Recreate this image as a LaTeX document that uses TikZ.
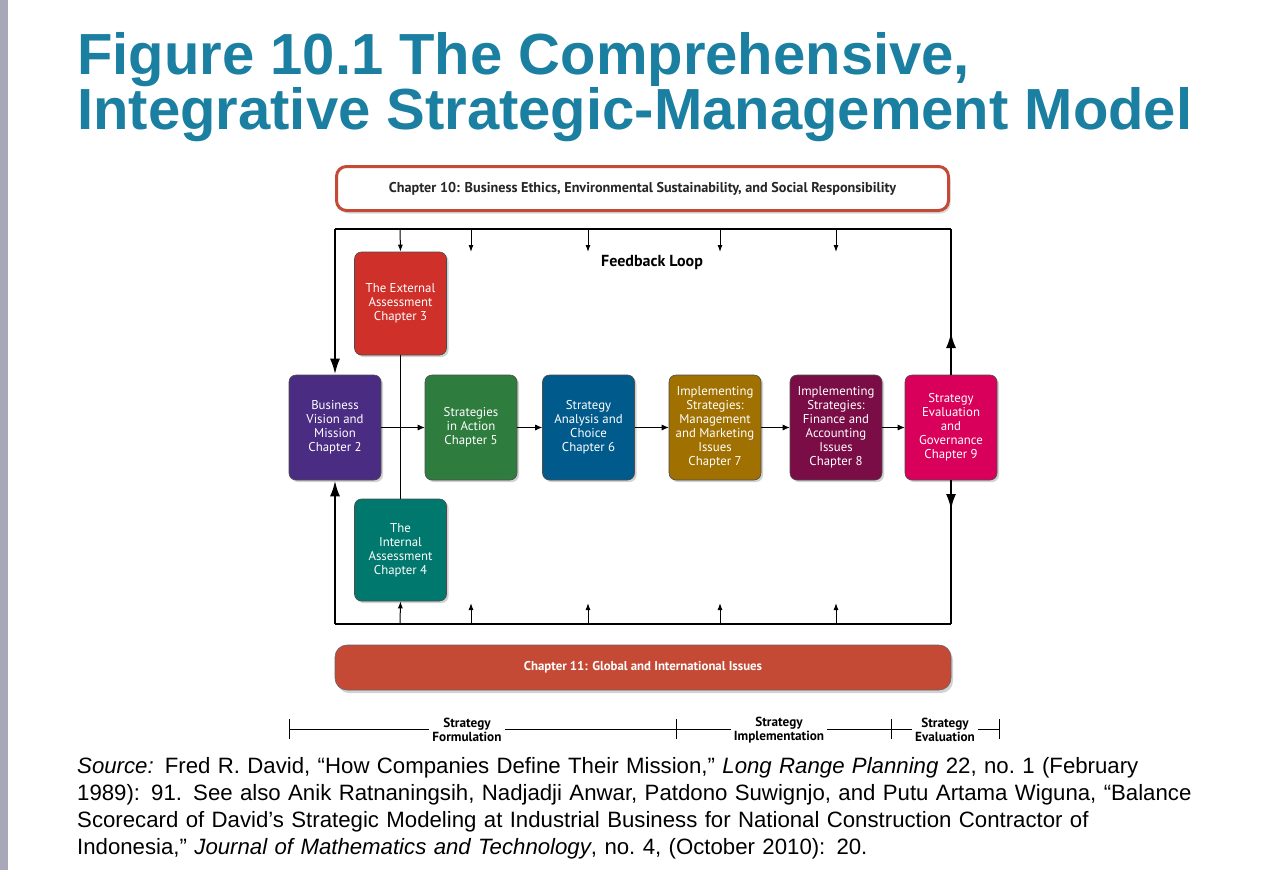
\documentclass[tikz,border=0pt]{standalone}
\usepackage{fontspec}
\setmainfont{Liberation Sans}
\newfontfamily\diag{PT Sans}
\usetikzlibrary{arrows.meta,shadows}
\definecolor{titleblue}{HTML}{1A7FA0}
\definecolor{cpurple}{HTML}{4B2C83}
\definecolor{cgreen}{HTML}{2E7D3E}
\definecolor{cblue}{HTML}{005A8C}
\definecolor{cgold}{HTML}{A07000}
\definecolor{cmaroon}{HTML}{7A0D45}
\definecolor{cpink}{HTML}{D8005A}
\definecolor{cred}{HTML}{D0302A}
\definecolor{cteal}{HTML}{00786E}
\definecolor{cbrick}{HTML}{C44A35}
\definecolor{sidebar}{HTML}{A8A8B8}
\begin{document}
\begin{tikzpicture}[x=1pt,y=-1pt,
  chap/.style={draw=black!70,line width=0.6pt,rounded corners=7pt,text=white,align=center,
    font=\diag\fontsize{12.8}{14}\selectfont,minimum width=92pt,minimum height=105pt,inner sep=1pt,
    drop shadow={shadow xshift=2pt,shadow yshift=-2pt,opacity=0.35}},
  loop/.style={line width=2.6pt},
  small/.style={-{Latex[length=7pt,width=5pt]},line width=1pt},
  big/.style={-{Latex[length=16pt,width=10pt]},line width=2.6pt},
  flow/.style={-{Latex[length=7pt,width=6pt]},line width=0.8pt},
  tl/.style={font=\diag\bfseries\fontsize{13.2}{14.5}\selectfont,align=center,fill=white,inner sep=3pt}]
\useasboundingbox (0,0) rectangle (1284,870);
\fill[white] (0,0) rectangle (1284,870);
\fill[sidebar] (0,0) rectangle (8,870);
% title
\node[anchor=base west,text=titleblue,font=\bfseries\fontsize{58}{60}\selectfont,inner sep=0] (t1) at (77,74) {Figure 10.1 The Comprehensive,};
\node[anchor=base west,text=titleblue,font=\bfseries\fontsize{58}{60}\selectfont,inner sep=0] (t2) at (77,129) {Integrative Strategic-Management Model};
% chapter 10
\node[draw=cbrick,line width=3pt,fill=white,rounded corners=10pt,minimum width=612pt,minimum height=44pt,
  font=\diag\bfseries\fontsize{14.2}{16}\selectfont,text=black!85,
  drop shadow={shadow xshift=2pt,shadow yshift=-3pt,opacity=0.3}] (c10) at (642.5,188.5)
  {Chapter 10: Business Ethics, Environmental Sustainability, and Social Responsibility};
% chapter 11
\node[draw=black!60,line width=0.6pt,fill=cbrick,rounded corners=12pt,minimum width=616pt,minimum height=45pt,
  font=\diag\bfseries\fontsize{12.8}{14}\selectfont,text=white,
  drop shadow={shadow xshift=2pt,shadow yshift=-3pt,opacity=0.35}] (c11) at (643,667.5)
  {Chapter 11: Global and International Issues};
% boxes
\node[chap,fill=cpurple] (b2) at (335,427.5) {Business\\Vision and\\Mission\\Chapter 2};
\node[chap,fill=cgreen] (b5) at (471,427.5) {Strategies\\in Action\\Chapter 5};
\node[chap,fill=cblue] (b6) at (588.5,427.5) {Strategy\\Analysis and\\Choice\\Chapter 6};
\node[chap,fill=cgold] (b7) at (715,427.5) {Implementing\\Strategies:\\Management\\and Marketing\\Issues\\Chapter 7};
\node[chap,fill=cmaroon] (b8) at (836,427.5) {Implementing\\Strategies:\\Finance and\\Accounting\\Issues\\Chapter 8};
\node[chap,fill=cpink] (b9) at (951,427.5) {Strategy\\Evaluation\\and\\Governance\\Chapter 9};
\node[chap,fill=cred,minimum height=103pt] (b3) at (400.5,303.5) {The External\\Assessment\\Chapter 3};
\node[chap,fill=cteal,minimum height=102pt] (b4) at (400.5,550) {The\\Internal\\Assessment\\Chapter 4};
% loop frame
\coordinate (tl) at (335,229); \coordinate (tr) at (951,229);
\coordinate (bl) at (335,624); \coordinate (br) at (951,624);
\draw[loop] (tl) -- (tr); \draw[loop] (bl) -- (br);
\draw[big] (tl) -- (b2.north);
\draw[big] (bl) -- (b2.south);
\draw[loop] (b9.north) -- (tr);
\draw[big] (b9.north) -- (951,332);
\draw[loop] (b9.south) -- (br);
\draw[big] (b9.south) -- (951,510);
\node[font=\diag\bfseries\fontsize{16}{18}\selectfont] (fb) at (652,262) {Feedback Loop};
% small arrows
\draw[small] (400,229) -- (b3.north);
\draw[small] (400,624) -- (b4.south);
\foreach \x in {471,588,720,836}{
  \coordinate (d\x) at (\x,230); \coordinate (e\x) at (\x,252);
  \draw[small] (d\x) -- (e\x);
  \coordinate (u\x) at (\x,623); \coordinate (v\x) at (\x,603);
  \draw[small] (u\x) -- (v\x);}
% flows
\draw[line width=0.8pt] (b3.south) -- (b4.north);
\draw[flow] (b2.east) -- (b5.west);
\draw[flow] (b5.east) -- (b6.west);
\draw[flow] (b6.east) -- (b7.west);
\draw[flow] (b7.east) -- (b8.west);
\draw[flow] (b8.east) -- (b9.west);
% timeline
\coordinate (s0) at (289,729); \coordinate (s1) at (676,729);
\coordinate (s2) at (891,729); \coordinate (s3) at (999,729);
\draw[line width=0.8pt] (s0) -- (s3);
\foreach \c in {s0,s1,s2,s3}{\draw[line width=0.8pt] ([yshift=-10pt]\c) -- ([yshift=10pt]\c);}
\node[tl] (f1) at (467,730) {Strategy\\Formulation};
\node[tl] (f2) at (779,730) {Strategy\\Implementation};
\node[tl] (f3) at (945,730) {Strategy\\Evaluation};
% source
\node[anchor=north west,align=left,font=\fontsize{22.2}{27}\selectfont,inner sep=0,text width=1190pt] (src) at (77,757)
{\textit{Source:} Fred R. David, “How Companies Define Their Mission,” \textit{Long Range Planning} 22, no.~1 (February\\
1989): 91. See also Anik Ratnaningsih, Nadjadji Anwar, Patdono Suwignjo, and Putu Artama Wiguna, “Balance\\
Scorecard of David’s Strategic Modeling at Industrial Business for National Construction Contractor of\\
Indonesia,” \textit{Journal of Mathematics and Technology}, no.~4, (October 2010): 20.};
\end{tikzpicture}
\end{document}
